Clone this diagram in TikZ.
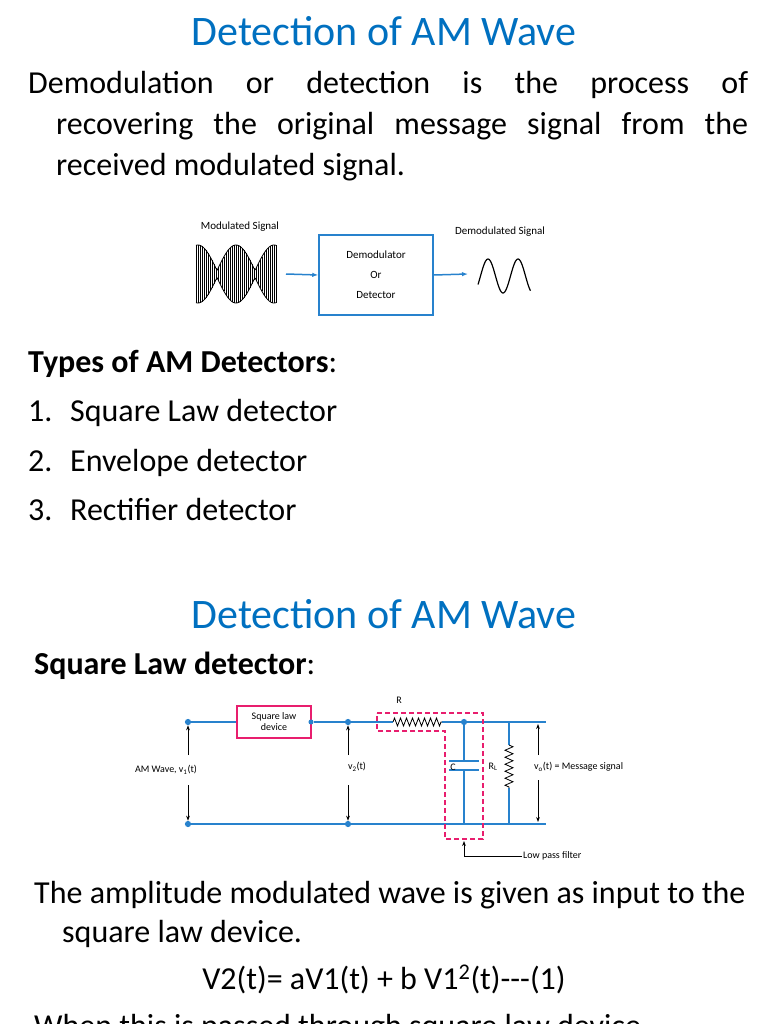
\documentclass[tikz,border=0pt]{standalone}
\usepackage{fontspec}
\setmainfont{Carlito}
\usetikzlibrary{arrows.meta,decorations.pathmorphing}
\definecolor{titleblue}{RGB}{0,112,192}
\definecolor{wireblue}{RGB}{40,130,205}
\definecolor{boxpink}{RGB}{232,30,110}
\tikzset{
  title/.style={anchor=base,text=titleblue,font=\fontsize{42}{46}\selectfont,inner sep=0},
  body/.style={anchor=base west,font=\fontsize{32}{38}\selectfont,inner sep=0},
  small/.style={font=\fontsize{10}{12}\selectfont,inner sep=1pt},
  wire/.style={wireblue,line width=1.4pt},
  dot/.style={circle,fill=wireblue,inner sep=2.2pt},
  vref/.style={-{Stealth[length=5pt]},line width=0.8pt},
  res/.style={decorate,decoration={zigzag,segment length=6pt,amplitude=4pt}}
}
\begin{document}
\begin{tikzpicture}[x=1pt,y=-1pt]
\useasboundingbox (0,0) rectangle (768,1024);
% slide one
\node[title] (t1) at (384,46) {Detection of AM Wave};
\node[anchor=north west,inner sep=0] (intro) at (28,71) {\parbox{720pt}{\fontsize{32}{41}\selectfont\hangindent=28pt\hangafter=1
 Demodulation or detection is the process of\linebreak recovering the original message signal from the\linebreak received modulated signal.}};
% block diagram
\node[small,font=\fontsize{11}{12}\selectfont] (modlbl) at (240,227) {Modulated Signal};
\foreach \i in {0,...,40} {
  \pgfmathsetmacro\xx{196+2*\i}
  \pgfmathsetmacro\hh{29*(0.12+0.88*abs(cos(180*(\xx-198)/38)))}
  \draw[line width=0.5pt] (\xx,274-\hh) -- (\xx,274+\hh);
}
\draw[line width=0.8pt,domain=196:276,samples=80] plot (\x,{274-29*(0.12+0.88*abs(cos(180*(\x-198)/38)))});
\draw[line width=0.8pt,domain=196:276,samples=80] plot (\x,{274+29*(0.12+0.88*abs(cos(180*(\x-198)/38)))});
\coordinate (amout) at (286,274);
\node[draw=wireblue,line width=1.5pt,minimum width=114pt,minimum height=80pt,align=center,
  font=\fontsize{11}{20}\selectfont] (demod) at (376,275) {Demodulator\\Or\\Detector};
\draw[wireblue,line width=1.5pt,-{Latex[length=6pt]}] (amout) -- (demod.west);
\coordinate (sinein) at (468,274);
\draw[wireblue,line width=1.5pt,-{Latex[length=6pt]}] (demod.east) -- (sinein);
\node[small,font=\fontsize{11}{12}\selectfont] (demlbl) at (500,232) {Demodulated Signal};
\draw[line width=1.2pt,domain=0:630,samples=80,smooth] plot ({478+\x/12},{276-17*sin(\x-30)});
% list
\node[body,font=\bfseries\fontsize{32}{38}\selectfont] (types) at (28,372) {Types of AM Detectors\normalfont:};
\foreach \n/\t/\y in {1/Square Law detector/421,2/Envelope detector/471,3/Rectifier detector/520} {
  \node[body] (num\n) at (28,\y) {\n.};
  \node[body] (item\n) at (70,\y) {\t};
}
% slide two
\node[title] (t2) at (384,628) {Detection of AM Wave};
\node[body,font=\bfseries\fontsize{32}{38}\selectfont] (sq) at (34,674) {Square Law detector\normalfont:};
% circuit
\node[dot] (a1) at (188,722) {};
\node[dot] (a2) at (188,824) {};
\node[draw=boxpink,line width=1.5pt,minimum width=74pt,minimum height=32pt,align=center,
  font=\fontsize{10}{11}\selectfont] (sld) at (274,722) {Square law\\device};
\node[dot,inner sep=1.8pt] (sldout) at (311,722) {};
\node[dot] (b1) at (348,722) {};
\node[dot] (b2) at (348,824) {};
\coordinate (r1) at (393,722);
\coordinate (r2) at (442,722);
\node[dot] (c1) at (464,722) {};
\coordinate (c2) at (464,824);
\coordinate (cp1) at (464,761);
\coordinate (cp2) at (464,770);
\coordinate (rl1) at (509,722);
\coordinate (rl2) at (509,824);
\coordinate (o1) at (546,722);
\coordinate (o2) at (546,824);
\draw[wire] (a1) -- (sld.west) (sldout) -- (b1) -- (r1);
\draw[wire] (r2) -- (c1) -- (o1);
\draw[wire] (a2) -- (b2) -- (o2);
\draw[line width=0.8pt,res] (r1) -- (r2);
\draw[wire] (c1) -- (cp1) (cp2) -- (c2);
\draw[wire] ([xshift=-15pt]cp1) -- ([xshift=15pt]cp1) ([xshift=-15pt]cp2) -- ([xshift=15pt]cp2);
\draw[wire] (rl1) -- (509,745) (509,788) -- (rl2);
\draw[line width=0.8pt,decorate,decoration={zigzag,segment length=7pt,amplitude=4pt}] (509,745) -- (509,788);
\node[small] (rlbl) at (399,700) {R};
\node[small] (clbl) at (453,767) {C};
\node[small] (rllbl) at (493,767) {R\textsubscript{L}};
% voltages
\node[small] (v1) at (166,770) {AM Wave, v\textsubscript{1}(t)};
\draw[vref] (188,755) -- (a1); \draw[vref] (188,785) -- (a2);
\node[small] (v2) at (357,767) {v\textsubscript{2}(t)};
\draw[vref] (348,755) -- (b1); \draw[vref] (348,785) -- (b2);
\node[small,anchor=west] (vo) at (533,767) {v\textsubscript{o}(t) = Message signal};
\draw[vref] (538,755) -- (538,724); \draw[vref] (538,780) -- (538,822);
% low pass filter outline
\draw[boxpink,line width=1.4pt,dash pattern=on 5pt off 3pt] (377,713) -- (483,713) -- (483,839) -- (445,839) -- (445,731) -- (377,731) -- cycle;
\coordinate (lpf) at (464,841);
\node[small,anchor=west] (lpflbl) at (522,856) {Low pass filter};
\draw[line width=0.8pt,-{Stealth[length=5pt]}] (lpflbl.west) -- (464,856) -- (lpf);
% text
\node[body] (p1) at (34,903) {The amplitude modulated wave is given as input to the};
\node[body] (p2) at (62,942) {square law device.};
\node[body,anchor=base] (eq) at (384,989) {V2(t)= aV1(t) + b V1\textsuperscript{2}(t){-}{-}{-}(1)};
\node[body] (p3) at (34,1036) {When this is passed through square law device};
\end{tikzpicture}
\end{document}
